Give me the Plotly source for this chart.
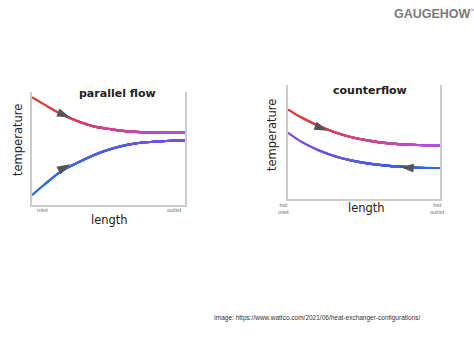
import plotly.graph_objects as go

# ---- data (length fraction, temperature in arbitrary units 0-100) ----
par_x_hot = [0.0, 0.10, 0.19, 0.30, 0.41, 0.52, 0.63, 0.74, 0.85, 1.0]
par_hot = [95.3, 87.3, 80.5, 74.1, 69.3, 67.0, 65.2, 64.3, 64.0, 64.0]
par_x_cold = [0.0, 0.08, 0.19, 0.25, 0.41, 0.52, 0.63, 0.74, 0.85, 1.0]
par_cold = [8.6, 18.0, 29.8, 34.2, 44.5, 49.8, 53.4, 55.5, 56.4, 57.3]

cnt_x = [0.0, 0.083, 0.193, 0.303, 0.413, 0.522, 0.632, 0.741, 0.851, 1.0]
cnt_hot = [78.7, 72.0, 64.7, 58.9, 54.5, 51.6, 49.3, 48.1, 47.5, 47.2]
cnt_cold = [58.3, 50.7, 43.4, 37.9, 34.1, 31.5, 29.7, 28.5, 27.6, 27.4]

# flow direction arrows: x, y, angle (deg clockwise from up)
par_arrow_x = [0.25, 0.25]
par_arrow_y = [77.5, 36.0]
par_arrow_ang = [112, 62]
cnt_arrow_x = [0.26, 0.74]
cnt_arrow_y = [60.0, 28.3]
cnt_arrow_ang = [112, 275]

titles = ["parallel flow", "counterflow"]

W, H = 474, 338


def px_x(p):
    return p / W


def px_y(p):
    return 1 - p / H


def lerp_col(c1, c2, t):
    return "rgb(%d,%d,%d)" % tuple(round(a + (b - a) * t) for a, b in zip(c1, c2))


RED = (222, 58, 52)
MAG = (182, 78, 226)
BLUE = (38, 108, 222)
VIO = (122, 76, 234)

fig = go.Figure()


def add_grad(xs, ys, c1, c2, xa, ya):
    n = len(xs) - 1
    # full curve, then successively shorter tails drawn on top -> smooth stepped gradient
    for i in range(n):
        fig.add_trace(go.Scatter(
            x=xs[i:], y=ys[i:], mode="lines",
            line=dict(color=lerp_col(c1, c2, i / (n - 1)), width=2.2, shape="spline",
                      smoothing=1.0),
            xaxis=xa, yaxis=ya, hoverinfo="skip", showlegend=False))


add_grad(par_x_hot, par_hot, RED, MAG, "x", "y")
add_grad(par_x_cold, par_cold, BLUE, VIO, "x", "y")
add_grad(cnt_x, cnt_hot, RED, MAG, "x2", "y2")
add_grad(cnt_x, cnt_cold, VIO, BLUE, "x2", "y2")

fig.add_trace(go.Scatter(x=par_arrow_x, y=par_arrow_y, mode="markers",
                         marker=dict(symbol="arrow", size=14, angle=par_arrow_ang, color="#555555",
                                     line=dict(width=0)),
                         xaxis="x", yaxis="y", hoverinfo="skip", showlegend=False))
fig.add_trace(go.Scatter(x=cnt_arrow_x, y=cnt_arrow_y, mode="markers",
                         marker=dict(symbol="arrow", size=14, angle=cnt_arrow_ang, color="#555555",
                                     line=dict(width=0)),
                         xaxis="x2", yaxis="y2", hoverinfo="skip", showlegend=False))

ax_common = dict(showgrid=False, zeroline=False, showticklabels=False, ticks="",
                 fixedrange=True)
line_style = dict(showline=True, linecolor="#cccccc", linewidth=1.5)

fig.update_layout(
    width=W, height=H,
    margin=dict(l=0, r=0, t=0, b=0),
    paper_bgcolor="white", plot_bgcolor="white",
    xaxis=dict(domain=[px_x(32), px_x(185)], range=[0, 1], **ax_common, **line_style),
    yaxis=dict(domain=[px_y(205), px_y(92)], range=[0, 100], mirror=True, **ax_common, **line_style),
    xaxis2=dict(domain=[px_x(288), px_x(440)], range=[0, 1], anchor="y2", **ax_common, **line_style),
    yaxis2=dict(domain=[px_y(199.3), px_y(85)], range=[0, 100], anchor="x2", mirror=True,
                **ax_common, **line_style),
)

DJ = "DejaVu Sans"


def ann(text, x, y, size, color="#222222", family=DJ, angle=0, bold=False):
    if bold:
        text = "<b>" + text + "</b>"
    fig.add_annotation(text=text, x=px_x(x), y=px_y(y), xref="paper", yref="paper",
                       showarrow=False, textangle=angle, xanchor="center", yanchor="middle",
                       font=dict(size=size, color=color, family=family))


ann(titles[0], 117, 94, 11, bold=True)
ann(titles[1], 370, 91, 11, bold=True)
ann("temperature", 18, 140, 11.5, angle=-90)
ann("temperature", 272, 135, 11.5, angle=-90)
ann("length", 109, 220, 11.5)
ann("length", 366, 208, 11.5)
ann("inlet", 42, 210, 5, color="#555555")
ann("outlet", 174, 210, 5, color="#555555")
ann("hot<br>inlet", 283, 208.5, 5, color="#555555")
ann("hot<br>outlet", 437, 208.5, 5, color="#555555")
ann("GAUGEHOW", 432, 14, 12.5, color="#7a7a7a", family="Liberation Sans", bold=True)
ann("™", 472, 10, 5, color="#7a7a7a", family="Liberation Sans")
ann("Image: https://www.wattco.com/2021/06/heat-exchanger-configurations/", 317, 318, 6.5,
    color="#333333", family="Liberation Sans")

fig.write_html("out.html")
